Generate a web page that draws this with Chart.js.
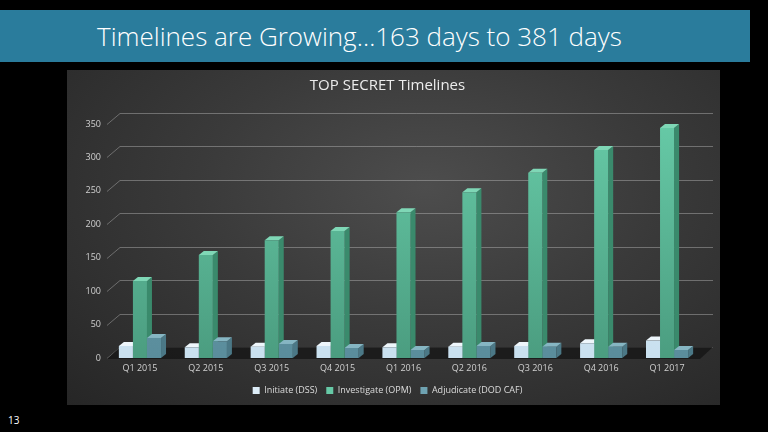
<!DOCTYPE html>
<html>
<head>
<meta charset="utf-8">
<script src="https://cdn.jsdelivr.net/npm/chart.js@4"></script>
<style>
  html, body { margin: 0; padding: 0; background: #000; }
  body { width: 768px; height: 432px; position: relative; overflow: hidden; font-family: "Open Sans", sans-serif; }
  #banner { position: absolute; left: 0; top: 10px; width: 750px; height: 52px; background: #2a7c9c;
    color: #fff; font-size: 26px; font-weight: 300; line-height: 52px; box-sizing: border-box; padding-left: 97px; }
  #panel { position: absolute; left: 67px; top: 70px; width: 653px; height: 335px;
    background: radial-gradient(ellipse at 55% 35%, #4d4d4d 0%, #3a3a3a 45%, #262626 100%); }
  #pageNo { position: absolute; left: 8px; top: 413px; color: #fff; font-size: 10px; }
</style>
</head>
<body>
<div id="banner">Timelines are Growing…163 days to 381 days</div>
<div id="panel"><canvas id="chart" width="653" height="335"></canvas></div>
<div id="pageNo">13</div>
<script>
// Données
const quarters = ['Q1 2015', 'Q2 2015', 'Q3 2015', 'Q4 2015', 'Q1 2016', 'Q2 2016', 'Q3 2016', 'Q4 2016', 'Q1 2017'];
const initiate = [18, 16, 17, 18, 16, 17, 18, 22, 26];
const investigate = [115, 154, 176, 190, 218, 248, 277, 311, 344];
const adjudicate = [30, 25, 21, 15, 12, 18, 17, 17, 12];
const yTicks = [0, 50, 100, 150, 200, 250, 300, 350];

// Couleurs des faces (avant, côté, dessus)
const faces = [
  { top: '#eef6fb', side: '#a9bfcc', front: ['#dcecf7', '#c9e0ef'] },
  { top: '#7fd7b6', side: '#3a8a6c', front: ['#66c9a6', '#4b9d80'] },
  { top: '#86b6c3', side: '#4b7886', front: ['#6fa3b2', '#5a8d9c'] }
];
const DX = 5, DY = 4;     // profondeur des barres
const WX = 13, WY = -11;  // décalage du mur du fond

const frontFill = (i) => (ctx) => {
  const area = ctx.chart.chartArea;
  if (!area) return faces[i].front[0];
  const g = ctx.chart.ctx.createLinearGradient(0, area.top, 0, area.bottom);
  g.addColorStop(0, faces[i].front[0]);
  g.addColorStop(1, faces[i].front[1]);
  return g;
};

// Mur du fond, sol et faces 3D
const depthPlugin = {
  id: 'depth',
  beforeDatasetsDraw(chart) {
    const { ctx, chartArea: a, scales: { y } } = chart;
    ctx.save();
    ctx.strokeStyle = 'rgba(200,200,200,0.4)';
    ctx.lineWidth = 1;
    yTicks.forEach(v => {
      const py = Math.round(y.getPixelForValue(v)) + 0.5;
      ctx.beginPath();
      ctx.moveTo(a.left, py);
      ctx.lineTo(a.left + WX, py + WY);
      ctx.lineTo(a.right + WX, py + WY);
      ctx.stroke();
    });
    // sol
    const b = y.getPixelForValue(0);
    ctx.fillStyle = 'rgba(20,20,20,0.75)';
    ctx.beginPath();
    ctx.moveTo(a.left, b + 1);
    ctx.lineTo(a.left + WX, b + WY);
    ctx.lineTo(a.right + WX, b + WY);
    ctx.lineTo(a.right, b + 1);
    ctx.closePath();
    ctx.fill();
    // côtés et dessus des barres
    chart.data.datasets.forEach((ds, i) => {
      const meta = chart.getDatasetMeta(i);
      meta.data.forEach(bar => {
        const { x, y: top, width, base } = bar.getProps(['x', 'y', 'width', 'base'], true);
        const l = x - width / 2, r = x + width / 2;
        ctx.fillStyle = faces[i].side;
        ctx.beginPath();
        ctx.moveTo(r, top); ctx.lineTo(r + DX, top - DY);
        ctx.lineTo(r + DX, base - DY); ctx.lineTo(r, base);
        ctx.closePath(); ctx.fill();
        ctx.fillStyle = faces[i].top;
        ctx.beginPath();
        ctx.moveTo(l, top); ctx.lineTo(l + DX, top - DY);
        ctx.lineTo(r + DX, top - DY); ctx.lineTo(r, top);
        ctx.closePath(); ctx.fill();
      });
    });
    ctx.restore();
  }
};

new Chart(document.getElementById('chart'), {
  type: 'bar',
  data: {
    labels: quarters,
    datasets: [
      { label: 'Initiate (DSS)', data: initiate, backgroundColor: frontFill(0) },
      { label: 'Investigate (OPM)', data: investigate, backgroundColor: frontFill(1) },
      { label: 'Adjudicate (DOD CAF)', data: adjudicate, backgroundColor: frontFill(2) }
    ]
  },
  options: {
    responsive: false,
    animation: false,
    datasets: { bar: { barPercentage: 1, categoryPercentage: 0.64 } },
    layout: { padding: { left: 8, right: 20, top: 0, bottom: 0 } },
    plugins: {
      title: {
        display: true,
        text: 'TOP SECRET Timelines',
        color: '#ececec',
        font: { family: 'Open Sans', size: 15, weight: 'normal' },
        padding: { top: 7, bottom: 29 }
      },
      legend: {
        position: 'bottom',
        labels: {
          color: '#dcdcdc',
          font: { family: 'Open Sans', size: 9 },
          boxWidth: 7, boxHeight: 7, padding: 9,
          generateLabels: (chart) => chart.data.datasets.map((ds, i) => ({
            text: ds.label, fillStyle: faces[i].front[0], strokeStyle: faces[i].front[0],
            lineWidth: 0, fontColor: '#dcdcdc', datasetIndex: i
          }))
        }
      },
      tooltip: { enabled: false }
    },
    scales: {
      x: {
        grid: { display: false, drawTicks: false },
        border: { display: false },
        ticks: { color: '#d0d0d0', font: { family: 'Open Sans', size: 9 }, padding: 5, maxRotation: 0 },
        afterFit: (s) => { s.height = 19; }
      },
      y: {
        min: 0, max: 350,
        afterBuildTicks: (s) => { s.ticks = yTicks.map(v => ({ value: v })); },
        grid: { display: false, drawTicks: false },
        border: { display: false },
        ticks: { color: '#d0d0d0', font: { family: 'Open Sans', size: 9 }, padding: 6 },
        afterFit: (s) => { s.width = 32; }
      }
    }
  },
  plugins: [depthPlugin]
});
</script>
</body>
</html>
